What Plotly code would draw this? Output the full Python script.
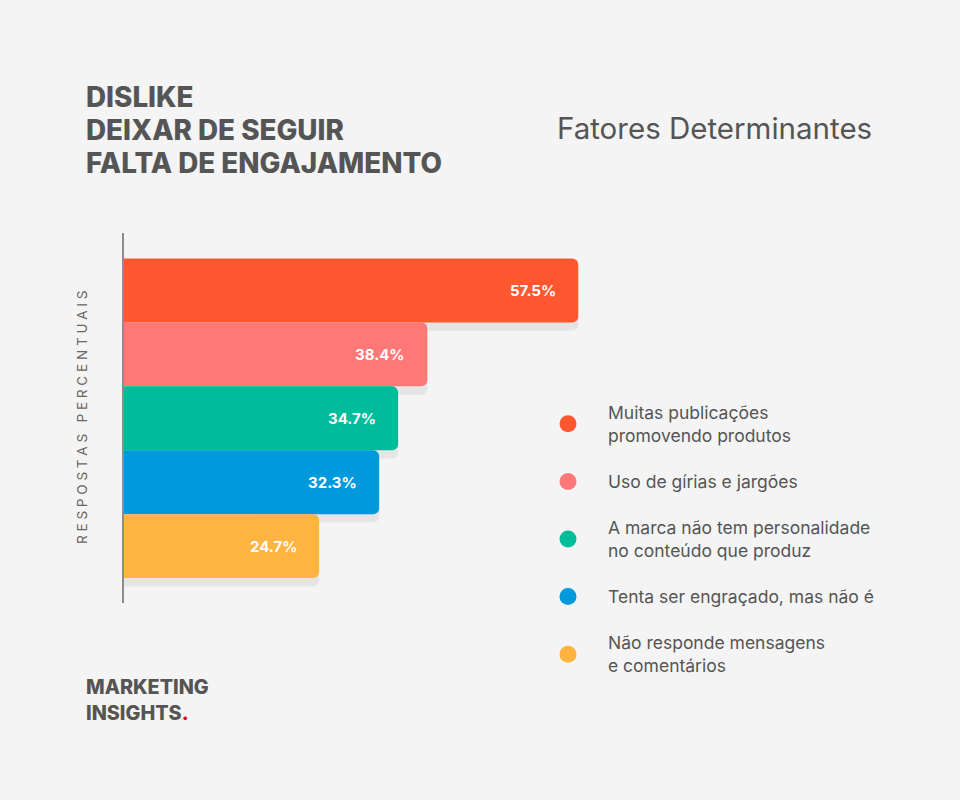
import plotly.graph_objects as go

# ---- data ----
categories = [
    "Muitas publicações<br>promovendo produtos",
    "Uso de gírias e jargões",
    "A marca não tem personalidade<br>no conteúdo que produz",
    "Tenta ser engraçado, mas não é",
    "Não responde mensagens<br>e comentários",
]
values = [57.5, 38.4, 34.7, 32.3, 24.7]
value_labels = ["57.5%", "38.4%", "34.7%", "32.3%", "24.7%"]
colors = ["#FF5730", "#FF7878", "#00BC9A", "#0099DB", "#FFB340"]
title_lines = ["DISLIKE", "DEIXAR DE SEGUIR", "FALTA DE ENGAJAMENTO"]

W, H = 960, 800
TXT = "#555555"
FONT = "Inter"
pos = list(range(len(values)))

fig = go.Figure()

# subtle shadow under bars
fig.add_trace(go.Bar(
    x=values, y=pos, orientation="h",
    marker=dict(color="rgba(0,0,0,0.06)", line=dict(width=0)),
    offset=-0.5 + 0.13, width=1.0,
    hoverinfo="skip", showlegend=False,
))
fig.add_trace(go.Bar(
    x=values, y=pos, orientation="h",
    marker=dict(color=colors, line=dict(width=0)),
    offset=-0.5, width=1.0,
    showlegend=False,
))

# legend dots on secondary axes
fig.add_trace(go.Scatter(
    x=[0] * len(categories), y=pos, mode="markers",
    marker=dict(color=colors, size=17),
    xaxis="x2", yaxis="y2", showlegend=False, hoverinfo="skip",
))

ann = []
for i, (v, lab) in enumerate(zip(values, value_labels)):
    ann.append(dict(x=v, y=i, xref="x", yref="y", text=lab, showarrow=False,
                    xanchor="right", xshift=-20,
                    font=dict(family=FONT, size=15, color="white", weight="bold")))
for i, c in enumerate(categories):
    ann.append(dict(x=0, y=i, xref="x2", yref="y2", text=c, showarrow=False,
                    xanchor="left", xshift=38, align="left",
                    font=dict(family=FONT, size=17.5, color=TXT)))

# title
for k, t in enumerate(title_lines):
    ann.append(dict(x=84 / W, y=1 - (97 + 33 * k) / H, xref="paper", yref="paper",
                    text=t, showarrow=False, xanchor="left", yanchor="middle",
                    font=dict(family=FONT, size=27.8, color=TXT, weight=800)))
ann.append(dict(x=555 / W, y=1 - 128 / H, xref="paper", yref="paper",
                text="Fatores Determinantes", showarrow=False, xanchor="left",
                yanchor="middle", font=dict(family=FONT, size=29.5, color=TXT)))
ann.append(dict(x=82 / W, y=1 - 418 / H, xref="paper", yref="paper",
                text=" ".join("RESPOSTAS") + "   " + " ".join("PERCENTUAIS"),
                showarrow=False, textangle=-90, xanchor="center", yanchor="middle",
                font=dict(family=FONT, size=13.5, color="#666666")))
ann.append(dict(x=84 / W, y=1 - 700 / H, xref="paper", yref="paper",
                text="MARKETING<br>INSIGHTS<span style='color:#E0001B'>.</span>",
                showarrow=False, xanchor="left", yanchor="middle", align="left",
                font=dict(family=FONT, size=19.8, color=TXT, weight=800)))

x0, x1 = 124, 620
scale = 7.9
y_top, y_bot = 233, 603
fig.update_layout(
    width=W, height=H, margin=dict(l=0, r=0, t=0, b=0),
    paper_bgcolor="#F4F4F4", plot_bgcolor="#F4F4F4",
    barmode="overlay", barcornerradius=6,
    annotations=ann,
    xaxis=dict(domain=[x0 / W, x1 / W], range=[0, (x1 - x0) / scale],
               visible=False, fixedrange=True),
    yaxis=dict(domain=[1 - y_bot / H, 1 - y_top / H], range=[4.89, -0.9],
               showline=True, linecolor="#8E8E8E", linewidth=2,
               showticklabels=False, showgrid=False, zeroline=False, ticks=""),
    xaxis2=dict(domain=[540 / W, 1.0], range=[-1, 14], visible=False, anchor="y2"),
    yaxis2=dict(domain=[1 - 683 / H, 1 - 395 / H], range=[4.5, -0.5],
                visible=False, anchor="x2"),
)

fig.write_html("out.html")
